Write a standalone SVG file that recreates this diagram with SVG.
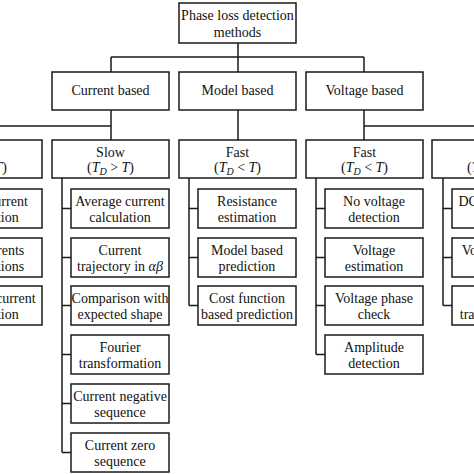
<svg xmlns="http://www.w3.org/2000/svg" width="474" height="474" viewBox="0 0 474 474">
<style>
rect.b{fill:#fff;stroke:#1a1a1a;stroke-width:1.5}
text{font-family:"Liberation Serif","Times New Roman",serif;font-size:14px;fill:#111;text-anchor:middle}
.i{font-style:italic}
.s{font-size:10px;font-style:italic}
#connectors path{fill:none;stroke:#1a1a1a;stroke-width:1.5}
</style>
<rect width="474" height="474" fill="#fff"/>
<g id="connectors">
<path d="M238 43V72M111 57H364M111 57V72M364 57V72"/>
<path d="M111 110V140M-17 126H111M-17 126V140M238 110V140M364 110V140M364 126H491M491 126V140"/>
<path d="M-65 178V305.5M-65 208.5H-56M-65 257.5H-56M-65 305.5H-56"/>
<path d="M62 178V452.5M62 208.5H71M62 257.5H71M62 305.5H71M62 354.5H71M62 403.5H71M62 452.5H71"/>
<path d="M189 178V305.5M189 208.5H198M189 257.5H198M189 305.5H198"/>
<path d="M316 178V354.5M316 208.5H325M316 257.5H325M316 305.5H325M316 354.5H325"/>
<path d="M443 178V305.5M443 208.5H452M443 257.5H452M443 305.5H452"/>
</g>
<g id="root"><rect class="b" x="179" y="3" width="117" height="40"/><text x="237.5" y="19.5">Phase loss detection</text><text x="237.5" y="36.5">methods</text></g>
<g id="current"><rect class="b" x="52" y="72" width="117" height="38"/><text x="110.5" y="95">Current based</text></g>
<g id="model"><rect class="b" x="179" y="72" width="117" height="38"/><text x="237.5" y="95">Model based</text></g>
<g id="voltage"><rect class="b" x="306" y="72" width="117" height="38"/><text x="364.5" y="95">Voltage based</text></g>

<g id="current-fast"><rect class="b" x="-75" y="140" width="117" height="38"/><text x="-16.5" y="156.5">Fast</text><text x="-16.5" y="172">(<tspan class="i">T</tspan><tspan class="s" dy="3">D</tspan><tspan dy="-3"> &lt; </tspan><tspan class="i">T</tspan>)</text></g>
<g id="current-slow"><rect class="b" x="52" y="140" width="117" height="38"/><text x="110.5" y="156.5">Slow</text><text x="110.5" y="172">(<tspan class="i">T</tspan><tspan class="s" dy="3">D</tspan><tspan dy="-3"> &gt; </tspan><tspan class="i">T</tspan>)</text></g>
<g id="model-fast"><rect class="b" x="179" y="140" width="117" height="38"/><text x="237.5" y="156.5">Fast</text><text x="237.5" y="172">(<tspan class="i">T</tspan><tspan class="s" dy="3">D</tspan><tspan dy="-3"> &lt; </tspan><tspan class="i">T</tspan>)</text></g>
<g id="voltage-fast"><rect class="b" x="306" y="140" width="117" height="38"/><text x="364.5" y="156.5">Fast</text><text x="364.5" y="172">(<tspan class="i">T</tspan><tspan class="s" dy="3">D</tspan><tspan dy="-3"> &lt; </tspan><tspan class="i">T</tspan>)</text></g>
<g id="voltage-slow"><rect class="b" x="432" y="140" width="117" height="38"/><text x="490.5" y="156.5">Slow</text><text x="490.5" y="172">(<tspan class="i">T</tspan><tspan class="s" dy="3">D</tspan><tspan dy="-3"> &gt; </tspan><tspan class="i">T</tspan>)</text></g>

<g id="cf1"><rect class="b" x="-56" y="189" width="98" height="39"/><text x="-7" y="205.5">Zero current</text><text x="-7" y="222">detection</text></g>
<g id="cf2"><rect class="b" x="-56" y="238" width="98" height="39"/><text x="-7" y="254.5">dq currents</text><text x="-7" y="271">predictions</text></g>
<g id="cf3"><rect class="b" x="-56" y="286" width="98" height="39"/><text x="-7" y="302.5">Neutral current</text><text x="-7" y="319">detection</text></g>

<g id="cs1"><rect class="b" x="71" y="189" width="98" height="39"/><text x="120" y="205.5">Average current</text><text x="120" y="222">calculation</text></g>
<g id="cs2"><rect class="b" x="71" y="238" width="98" height="39"/><text x="120" y="254.5">Current</text><text x="120" y="271">trajectory in <tspan class="i">αβ</tspan></text></g>
<g id="cs3"><rect class="b" x="71" y="286" width="98" height="39"/><text x="120" y="302.5">Comparison with</text><text x="120" y="319">expected shape</text></g>
<g id="cs4"><rect class="b" x="71" y="335" width="98" height="39"/><text x="120" y="351.5">Fourier</text><text x="120" y="368">transformation</text></g>
<g id="cs5"><rect class="b" x="71" y="384" width="98" height="39"/><text x="120" y="400.5">Current negative</text><text x="120" y="417">sequence</text></g>
<g id="cs6"><rect class="b" x="71" y="433" width="98" height="39"/><text x="120" y="449.5">Current zero</text><text x="120" y="466">sequence</text></g>

<g id="m1"><rect class="b" x="198" y="189" width="98" height="39"/><text x="247" y="205.5">Resistance</text><text x="247" y="222">estimation</text></g>
<g id="m2"><rect class="b" x="198" y="238" width="98" height="39"/><text x="247" y="254.5">Model based</text><text x="247" y="271">prediction</text></g>
<g id="m3"><rect class="b" x="198" y="286" width="98" height="39"/><text x="247" y="302.5">Cost function</text><text x="247" y="319">based prediction</text></g>

<g id="vf1"><rect class="b" x="325" y="189" width="98" height="39"/><text x="374" y="205.5">No voltage</text><text x="374" y="222">detection</text></g>
<g id="vf2"><rect class="b" x="325" y="238" width="98" height="39"/><text x="374" y="254.5">Voltage</text><text x="374" y="271">estimation</text></g>
<g id="vf3"><rect class="b" x="325" y="286" width="98" height="39"/><text x="374" y="302.5">Voltage phase</text><text x="374" y="319">check</text></g>
<g id="vf4"><rect class="b" x="325" y="335" width="98" height="39"/><text x="374" y="351.5">Amplitude</text><text x="374" y="368">detection</text></g>

<g id="vs1"><rect class="b" x="452" y="189" width="98" height="39"/><text x="501" y="205.5">DC component</text><text x="501" y="222">detection</text></g>
<g id="vs2"><rect class="b" x="452" y="238" width="98" height="39"/><text x="501" y="254.5">Voltage ripple</text><text x="501" y="271">analysis</text></g>
<g id="vs3"><rect class="b" x="452" y="286" width="98" height="39"/><text x="501" y="302.5">Fourier</text><text x="501" y="319">transformation</text></g>
</svg>
